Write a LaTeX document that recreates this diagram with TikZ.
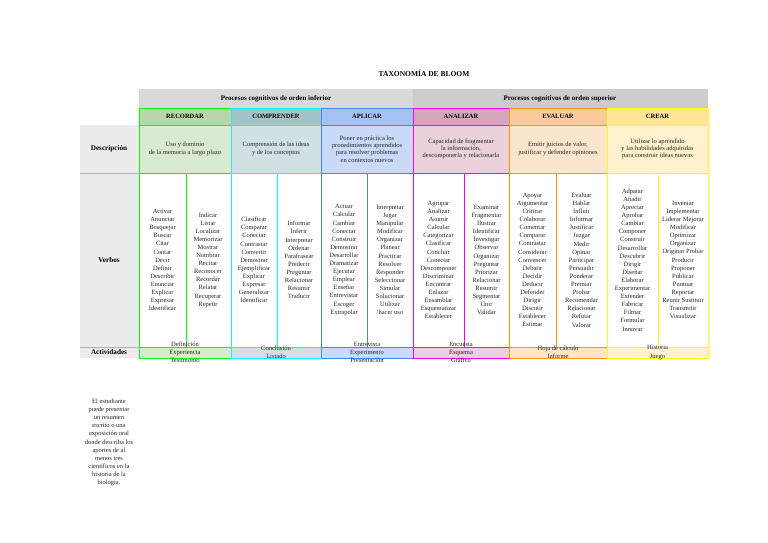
\documentclass[tikz,border=0pt]{standalone}
\usepackage{fontspec}
\setmainfont{Liberation Serif}
\definecolor{bA}{HTML}{00FF00}\definecolor{hA}{HTML}{B6D7A8}\definecolor{dA}{HTML}{D9EAD3}
\definecolor{bB}{HTML}{00FFFF}\definecolor{hB}{HTML}{A2C4C9}\definecolor{dB}{HTML}{D0E0E3}
\definecolor{bC}{HTML}{4A86E8}\definecolor{hC}{HTML}{A4C2F4}\definecolor{dC}{HTML}{C9DAF8}
\definecolor{bD}{HTML}{FF00FF}\definecolor{hD}{HTML}{D5A6BD}\definecolor{dD}{HTML}{EAD1DC}
\definecolor{bE}{HTML}{FF9900}\definecolor{hE}{HTML}{F9CB9C}\definecolor{dE}{HTML}{FCE5CD}
\definecolor{bF}{HTML}{FFFF00}\definecolor{hF}{HTML}{FFE599}\definecolor{dF}{HTML}{FFF2CC}
\tikzset{
 verb/.style={align=center,font=\fontsize{6.5}{8.1}\selectfont,inner sep=0pt,text=black!85},
 hdr/.style={font=\fontsize{6.5}{8}\selectfont\bfseries,inner sep=0pt},
 lbl/.style={font=\fontsize{7.2}{8}\selectfont\bfseries,inner sep=0pt},
 desc/.style={align=center,font=\fontsize{6.5}{7.4}\selectfont,inner sep=0pt,text=black!85},
}
\begin{document}
\begin{tikzpicture}[x=1pt,y=-1pt]
\useasboundingbox (0,0) rectangle (768,543);
\node[font=\fontsize{7.5}{9}\selectfont\bfseries] (title) at (424,73) {TAXONOMÍA DE BLOOM};
\fill[gray!15] (80,125) rectangle (139,358);
\draw[gray!60,line width=0.8pt] (80,173) -- (139,173);
\draw[gray!60,line width=0.8pt] (80,347) -- (139,347);
\fill[black!15] (139,89) rectangle (413,108);
\fill[black!20] (413,89) rectangle (708,108);
\node[hdr,font=\fontsize{7}{8}\selectfont\bfseries] (inf) at (276,98.5) {Procesos cognitivos de orden inferior};
\node[hdr,font=\fontsize{7}{8}\selectfont\bfseries] (sup) at (560,98.5) {Procesos cognitivos de orden superior};
\node[lbl] (ldesc) at (109,149) {Descripción};
\node[lbl] (lverb) at (109,260) {Verbos};
\node[lbl] (lact) at (109,352) {Actividades};
\foreach \l/\r/\c in {139/231/A,231/321/B,321/413/C,413/509/D,509/607/E,607/708/F}{
  \fill[h\c] (\l,108) rectangle (\r,125);
  \fill[d\c] (\l,125) rectangle (\r,173);
  \fill[d\c] (\l,347) rectangle (\r,358);
}
\foreach \l/\m/\r/\c in {139/186/231/A,231/277/321/B,321/367/413/C,413/464/509/D,509/556/607/E,607/658/708/F}{
  \draw[b\c,line width=1pt] (\l,108) rectangle (\r,358);
  \draw[b\c,line width=1pt] (\l,125) -- (\r,125) (\l,173) -- (\r,173) (\l,347) -- (\r,347) (\m,173) -- (\m,347);
}
\node[hdr] (hA) at (185,116.5) {RECORDAR};
\node[hdr] (hB) at (276,116.5) {COMPRENDER};
\node[hdr] (hC) at (367,116.5) {APLICAR};
\node[hdr] (hD) at (461,116.5) {ANALIZAR};
\node[hdr] (hE) at (558,116.5) {EVALUAR};
\node[hdr] (hF) at (657.5,116.5) {CREAR};
\node[desc] (dA) at (185,149) {Uso y dominio\\de la memoria a largo plazo};
\node[desc] (dB) at (276,149) {Comprensión de las ideas\\y de los conceptos};
\node[desc] (dC) at (367,149) {Poner en práctica los\\procedimientos aprendidos\\para resolver problemas\\en contextos nuevos};
\node[desc] (dD) at (461,149) {Capacidad de fragmentar\\la información,\\descomponerla y relacionarla};
\node[desc] (dE) at (558,149) {Emitir juicios de valor,\\justificar y defender opiniones};
\node[desc] (dF) at (657.5,149) {Utilizar lo aprendido\\y las habilidades adquiridas\\para construir ideas nuevas};
\node[verb] (vA1) at (162.5,260) {Activar\\Anunciar\\Bosquejar\\Buscar\\Citar\\Contar\\Decir\\Definir\\Describir\\Enunciar\\Explicar\\Expresar\\Identificar};
\node[verb] (vA2) at (208,260) {Indicar\\Listar\\Localizar\\Memorizar\\Mostrar\\Nombrar\\Recitar\\Reconocer\\Recordar\\Relatar\\Recuperar\\Repetir};
\node[verb] (vB1) at (254,260) {Clasificar\\Comparar\\Conectar\\Contrastar\\Convertir\\Demostrar\\Ejemplificar\\Explicar\\Expresar\\Generalizar\\Identificar};
\node[verb] (vB2) at (299,260) {Informar\\Inferir\\Interpretar\\Ordenar\\Parafrasear\\Predecir\\Preguntar\\Relacionar\\Resumir\\Traducir};
\node[verb] (vC1) at (344,260) {Actuar\\Calcular\\Cambiar\\Conectar\\Construir\\Demostrar\\Desarrollar\\Dramatizar\\Ejecutar\\Emplear\\Enseñar\\Entrevistar\\Escoger\\Extrapolar};
\node[verb] (vC2) at (390,260) {Interpretar\\Jugar\\Manipular\\Modificar\\Organizar\\Planear\\Practicar\\Resolver\\Responder\\Seleccionar\\Simular\\Solucionar\\Utilizar\\/hacer uso};
\node[verb] (vD1) at (438.5,260) {Agrupar\\Analizar\\Asumir\\Calcular\\Categorizar\\Clasificar\\Concluir\\Conectar\\Descomponer\\Discriminar\\Encontrar\\Enlazar\\Ensamblar\\Esquematizar\\Establecer};
\node[verb] (vD2) at (486.5,260) {Examinar\\Fragmentar\\Ilustrar\\Identificar\\Investigar\\Observar\\Organizar\\Preguntar\\Priorizar\\Relacionar\\Resumir\\Segmentar\\Unir\\Validar};
\node[verb] (vE1) at (532.5,260) {Apoyar\\Argumentar\\Criticar\\Colaborar\\Comentar\\Comparar\\Contrastar\\Considerar\\Convencer\\Debatir\\Decidir\\Deducir\\Defender\\Dirigir\\Discutir\\Establecer\\Estimar};
\node[verb] (vE2) at (581.5,260) {Evaluar\\Hablar\\Influir\\Informar\\Justificar\\Juzgar\\Medir\\Opinar\\Participar\\Persuadir\\Ponderar\\Premiar\\Probar\\Recomendar\\Relacionar\\Refutar\\Valorar};
\node[verb] (vF1) at (632.5,260) {Adpatar\\Añadir\\Apreciar\\Aprobar\\Cambiar\\Componer\\Construir\\Desarrollar\\Descubrir\\Dirigir\\Diseñar\\Elaborar\\Experimentar\\Extender\\Fabricar\\Filmar\\Formular\\Innovar};
\node[verb] (vF2) at (683,260) {Inventar\\Implementar\\Liderar Mejorar\\Modificar\\Optimizar\\Organizar\\Originar Probar\\Producir\\Proponer\\Publicar\\Puntuar\\Reportar\\Reunir Sustituir\\Transmitir\\Visualizar};
\node[verb] (aA) at (185,352.5) {Definición\\Experiencia\\Testimonio};
\node[verb] (aB) at (276,352.5) {Conclusión\\Listado};
\node[verb] (aC) at (367,352.5) {Entrevista\\Experimento\\Presentación};
\node[verb] (aD) at (461,352.5) {Encuesta\\Esquema\\Gráfico};
\node[verb] (aE) at (558,352.5) {Hoja de cálculo\\Informe};
\node[verb] (aF) at (657.5,352.5) {Historia\\Juego};
\node[verb] (note) at (109,442.5) {El estudiante\\puede presentar\\un resumen\\escrito o una\\exposición oral\\donde describa los\\aportes de al\\menos tres\\científicos en la\\historia de la\\biología.};
\end{tikzpicture}
\end{document}
